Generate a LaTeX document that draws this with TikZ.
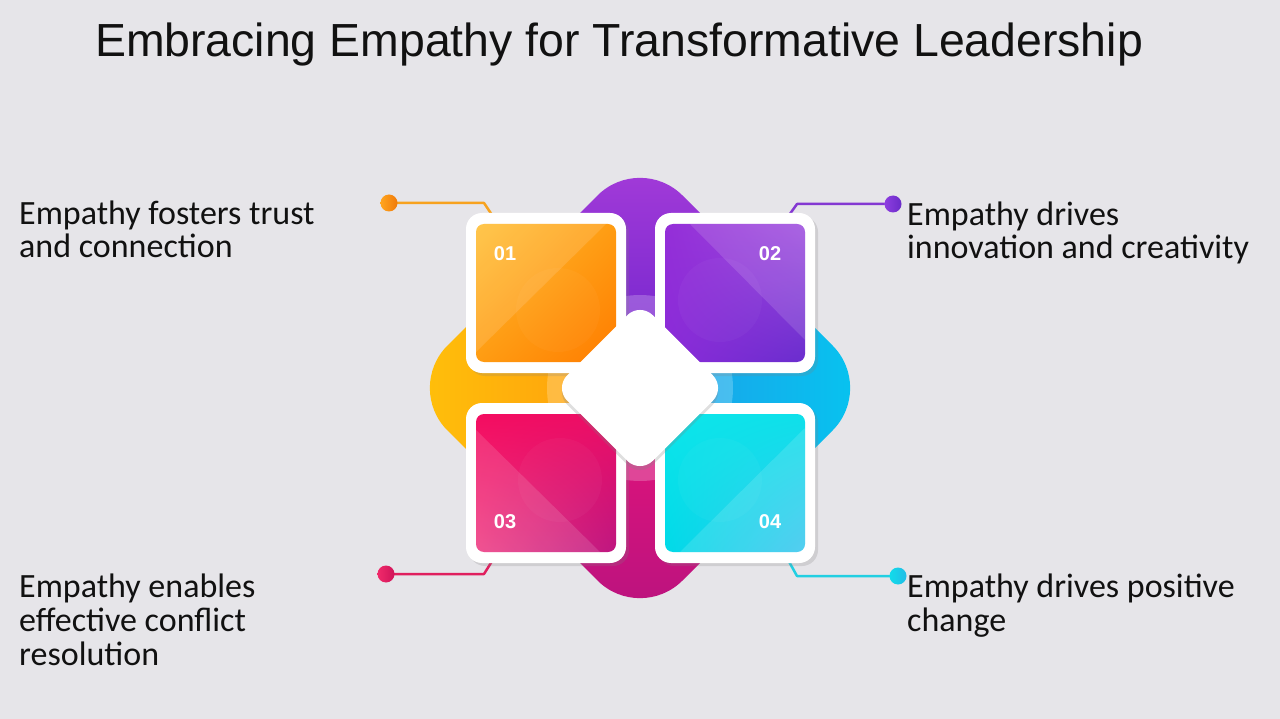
\documentclass[tikz,border=0pt]{standalone}
\usepackage{fontspec}
\setmainfont{Carlito}
\newfontfamily\titlefont{Liberation Sans}
\usetikzlibrary{shadows,shadings}
\definecolor{bg}{HTML}{E6E5E9}
\definecolor{txt}{HTML}{111111}
\definecolor{cOra}{HTML}{F7A21E}
\definecolor{cPur}{HTML}{8438D2}
\definecolor{cPnk}{HTML}{E01F5E}
\definecolor{cCya}{HTML}{22CFE2}
% big diamond
\definecolor{qTa}{HTML}{A63CD9}\definecolor{qTb}{HTML}{6A22CC}
\definecolor{qLa}{HTML}{FFC20A}\definecolor{qLb}{HTML}{FF9A0E}
\definecolor{qRa}{HTML}{1E9DE8}\definecolor{qRb}{HTML}{05C6F0}
\definecolor{qBa}{HTML}{E8137A}\definecolor{qBb}{HTML}{B8137F}
% dots
\definecolor{dOa}{HTML}{FFA51F}\definecolor{dOb}{HTML}{F07A0A}
\definecolor{dPa}{HTML}{8E3EE0}\definecolor{dPb}{HTML}{6A2BC8}
\definecolor{dKa}{HTML}{F02A6A}\definecolor{dKb}{HTML}{D0145A}
\definecolor{dCa}{HTML}{12DCEA}\definecolor{dCb}{HTML}{22BCE6}
% squares
\definecolor{aUL}{HTML}{FFBE32}\definecolor{aUR}{HTML}{FF9C12}\definecolor{aLL}{HTML}{FF9C12}\definecolor{aLR}{HTML}{FF7C00}
\definecolor{bUL}{HTML}{942ED8}\definecolor{bUR}{HTML}{9E4EDE}\definecolor{bLL}{HTML}{8A2BD8}\definecolor{bLR}{HTML}{6A2DCE}
\definecolor{cUL}{HTML}{F40C60}\definecolor{cUR}{HTML}{EC0E66}\definecolor{cLL}{HTML}{EE3A82}\definecolor{cLR}{HTML}{BE1680}
\definecolor{eUL}{HTML}{0CE6EA}\definecolor{eUR}{HTML}{0EE0EA}\definecolor{eLL}{HTML}{00DAE8}\definecolor{eLR}{HTML}{3AC6EE}
\tikzset{
  frame/.style={rectangle, rounded corners=16, fill=white, minimum size=160, inner sep=0,
    drop shadow={opacity=0.22, shadow xshift=3pt, shadow yshift=-3pt}},
  conn/.style={line width=2.5, line join=round},
  dotnode/.style={circle, minimum size=17, inner sep=0},
  num/.style={text=white, font=\titlefont\bfseries\fontsize{20}{20}\selectfont, inner sep=0},
  lbl/.style={align=left, inner sep=0, text=txt, font=\fontsize{34}{33.7}\selectfont, anchor=base west},
  band/.style={fill=white, opacity=0.13},
}
\begin{document}
\begin{tikzpicture}[x=1pt,y=-1pt]
\useasboundingbox (0,0) rectangle (1280,719);
\fill[bg] (0,0) rectangle (1280,719);

% title
\node[anchor=base, text=txt, inner sep=0, font=\titlefont\fontsize{46.4}{50}\selectfont] (title) at (619,57) {Embracing Empathy for Transformative Leadership};

% big rounded diamond with four coloured quadrants
\begin{scope}
\clip[rounded corners=60] (640,153) -- (875,388) -- (640,623) -- (405,388) -- cycle;
\shade[top color=qTa, bottom color=qTb] (640,388) -- (405,153) -- (875,153) -- cycle;
\shade[left color=qLa, right color=qLb] (640,388) -- (405,153) -- (405,623) -- cycle;
\shade[left color=qRa, right color=qRb] (640,388) -- (875,153) -- (875,623) -- cycle;
\shade[top color=qBa, bottom color=qBb] (640,388) -- (405,623) -- (875,623) -- cycle;
\end{scope}
\fill[white, opacity=0.22] (640,388) circle (93);

% connectors
\coordinate (p1) at (389,203); \coordinate (k1) at (484,203); \coordinate (e1) at (494,218);
\coordinate (p2) at (893,204); \coordinate (k2) at (797,204); \coordinate (e2) at (787,218);
\coordinate (p3) at (386,574); \coordinate (k3) at (484,574); \coordinate (e3) at (494,558);
\coordinate (p4) at (898,576); \coordinate (k4) at (797,576); \coordinate (e4) at (787,558);
\draw[conn, cOra] (p1) -- (k1) -- (e1);
\draw[conn, cPur] (p2) -- (k2) -- (e2);
\draw[conn, cPnk] (p3) -- (k3) -- (e3);
\draw[conn, cCya] (p4) -- (k4) -- (e4);
\node[dotnode, left color=dOa, right color=dOb] (d1) at (p1) {};
\node[dotnode, left color=dPa, right color=dPb] (d2) at (p2) {};
\node[dotnode, left color=dKa, right color=dKb] (d3) at (p3) {};
\node[dotnode, left color=dCa, right color=dCb] (d4) at (p4) {};

% white frames
\node[frame] (s1) at (546,293) {};
\node[frame] (s2) at (735,293) {};
\node[frame] (s3) at (546,483) {};
\node[frame] (s4) at (735,483) {};

% coloured squares
\shade[rounded corners=8, upper left=aUL, upper right=aUR, lower left=aLL, lower right=aLR] (476,224) rectangle (616,362);
\shade[rounded corners=8, upper left=bUL, upper right=bUR, lower left=bLL, lower right=bLR] (665,224) rectangle (805,362);
\shade[rounded corners=8, upper left=cUL, upper right=cUR, lower left=cLL, lower right=cLR] (476,414) rectangle (616,552);
\shade[rounded corners=8, upper left=eUL, upper right=eUR, lower left=eLL, lower right=eLR] (665,414) rectangle (805,552);

% light bands and soft circles
\begin{scope}
\clip[rounded corners=8] (476,224) rectangle (616,362);
\fill[band] (476,224) -- (606,224) -- (476,352) -- cycle;
\fill[white, opacity=0.03] (558,310) circle (42);
\end{scope}
\begin{scope}
\clip[rounded corners=8] (665,224) rectangle (805,362);
\fill[band] (805,224) -- (690,224) -- (805,340) -- cycle;
\fill[white, opacity=0.03] (720,300) circle (42);
\end{scope}
\begin{scope}
\clip[rounded corners=8] (476,414) rectangle (616,552);
\fill[band] (476,552) -- (476,430) -- (600,552) -- cycle;
\fill[white, opacity=0.03] (560,480) circle (42);
\end{scope}
\begin{scope}
\clip[rounded corners=8] (665,414) rectangle (805,552);
\fill[band] (805,552) -- (805,428) -- (680,552) -- cycle;
\fill[white, opacity=0.03] (720,480) circle (42);
\end{scope}

% centre diamond
\fill[rounded corners=18, white, drop shadow={opacity=0.25, shadow xshift=0pt, shadow yshift=-4pt}]
  (640,302.5) -- (725.5,388) -- (640,473.5) -- (554.5,388) -- cycle;

% numbers
\node[num] (n1) at (505,254) {01};
\node[num] (n2) at (770,254) {02};
\node[num] (n3) at (505,522) {03};
\node[num] (n4) at (770,522) {04};

% labels (anchor is the baseline of the last line)
\node[lbl] (t1) at (19,258) {Empathy fosters trust\\and connection};
\node[lbl] (t2) at (907,259) {Empathy drives\\innovation and creativity};
\node[lbl] (t3) at (19,665) {Empathy enables\\effective conflict\\resolution};
\node[lbl] (t4) at (907,631) {Empathy drives positive\\change};
\end{tikzpicture}
\end{document}
